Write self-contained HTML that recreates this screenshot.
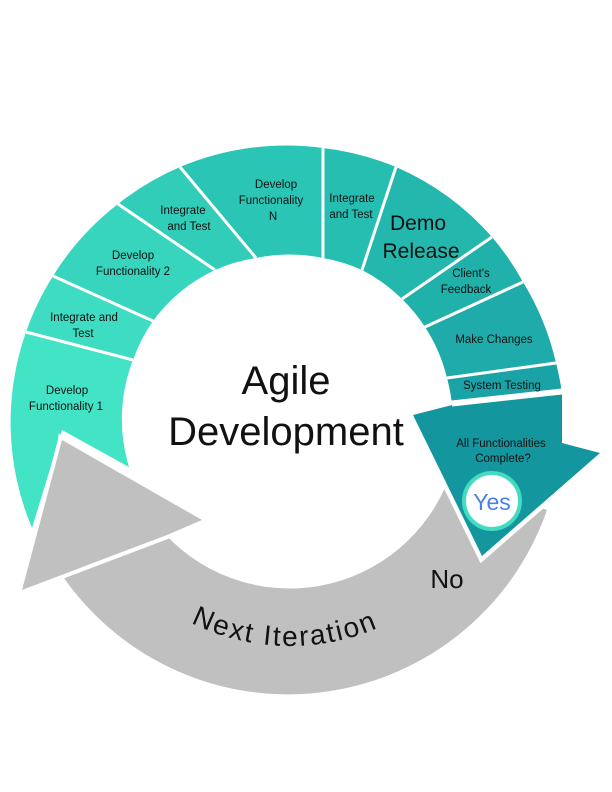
<!DOCTYPE html>
<html><head><meta charset="utf-8"><style>
html,body{margin:0;padding:0;background:#fff;}
svg{display:block;}
text{font-family:"Liberation Sans",sans-serif;fill:#111;}
.s{font-size:11.5px;text-anchor:middle;}
</style></head><body>
<svg width="612" height="792" viewBox="0 0 612 792">
<path d="M133,360 L26,332 A272,272 0 0 0 32,528 L62,430 L129,467 A163,163 0 0 1 133,360Z" fill="#43e3c6"/>
<path d="M153,321 L53,276 A272,272 0 0 0 26,332 L133,360 A163,163 0 0 1 153,321Z" fill="#3edcc2"/>
<path d="M215,270 L118,204 A272,272 0 0 0 53,276 L153,321 A163,163 0 0 1 215,270Z" fill="#37d5be"/>
<path d="M256,258 L180,167 A272,272 0 0 0 118,204 L215,270 A163,163 0 0 1 256,258Z" fill="#31cdb9"/>
<path d="M323,258 L323,148 A272,272 0 0 0 180,167 L256,258 A163,163 0 0 1 323,258Z" fill="#2bc5b6"/>
<path d="M362,270 L396,167 A272,272 0 0 0 323,148 L323,258 A163,163 0 0 1 362,270Z" fill="#27beb2"/>
<path d="M402,299 L492,237 A272,272 0 0 0 396,167 L362,270 A163,163 0 0 1 402,299Z" fill="#23b7ae"/>
<path d="M425,327 L523,282 A272,272 0 0 0 492,237 L402,299 A163,163 0 0 1 425,327Z" fill="#21b1ab"/>
<path d="M447,378 L556,363 A272,272 0 0 0 523,282 L425,327 A163,163 0 0 1 447,378Z" fill="#1eaba9"/>
<path d="M452,405 L562,393 A272,272 0 0 0 556,363 L447,378 A163,163 0 0 1 452,405Z" fill="#1aa3a6"/>
<g stroke="#fff" stroke-width="3">
<line x1="133" y1="360" x2="26" y2="332"/><line x1="153" y1="321" x2="53" y2="276"/>
<line x1="215" y1="270" x2="118" y2="204"/><line x1="256" y1="258" x2="180" y2="167"/>
<line x1="323" y1="258" x2="323" y2="148"/><line x1="362" y1="270" x2="396" y2="167"/>
<line x1="402" y1="299" x2="492" y2="237"/><line x1="425" y1="327" x2="523" y2="282"/>
<line x1="447" y1="378" x2="556" y2="363"/>
</g>
<g>
<path d="M547,510 A274,274 0 0 1 50,556 L62,440 L202,520 L167,535 L158,526 A170,170 0 0 0 450,475 Z" fill="#c0c0c0" stroke="#fff" stroke-width="8"/>
<path d="M547,510 A274,274 0 0 1 50,556 L22,590 L62,440 L202,520 L167,535 L158,526 A170,170 0 0 0 450,475 Z" fill="#c0c0c0"/>
<path d="M22,590 L62,440 L202,520 L167,535 Z" fill="#c0c0c0" stroke="#fff" stroke-width="8"/>
<path d="M22,590 L62,440 L202,520 L167,535 Z" fill="#c0c0c0"/>
</g>
<path d="M452,405 L562,393 L562,443 L600,453 L482,556 L413,415 Z" fill="#fff" stroke="#fff" stroke-width="9"/>
<path d="M452,405 L562,393 L562,443 L600,453 L482,556 L413,415 Z" fill="#14969f"/>
<line x1="452" y1="405" x2="562" y2="393" stroke="#fff" stroke-width="3"/>
<circle cx="492" cy="501" r="28" fill="#fff" stroke="#44dcc0" stroke-width="4"/>
<text x="492" y="510" style="font-size:23px;text-anchor:middle;fill:#4a7ef0">Yes</text>
<text x="286" y="394" style="font-size:40px;text-anchor:middle">Agile</text>
<text x="286" y="445" style="font-size:40px;text-anchor:middle">Development</text>
<text class="s" x="67" y="394">Develop</text><text class="s" x="66" y="410">Functionality 1</text>
<text class="s" x="84" y="321">Integrate and</text><text class="s" x="83" y="337">Test</text>
<text class="s" x="133" y="259">Develop</text><text class="s" x="133" y="275">Functionality 2</text>
<text class="s" x="183" y="214">Integrate</text><text class="s" x="189" y="230">and Test</text>
<text class="s" x="276" y="188">Develop</text><text class="s" x="271" y="204">Functionality</text><text class="s" x="273" y="220">N</text>
<text class="s" x="352" y="202">Integrate</text><text class="s" x="351" y="218">and Test</text>
<text x="418" y="230" style="font-size:21px;text-anchor:middle">Demo</text>
<text x="421" y="258" style="font-size:21px;text-anchor:middle">Release</text>
<text class="s" x="471" y="277">Client’s</text><text class="s" x="466" y="293">Feedback</text>
<text class="s" x="494" y="343">Make Changes</text>
<text class="s" x="502" y="389">System Testing</text>
<text class="s" x="501" y="447">All Functionalities</text><text class="s" x="503" y="462">Complete?</text>
<text x="447" y="588" style="font-size:26px;text-anchor:middle">No</text>
<defs><path id="arc" d="M80,496 A222,222 0 0 0 500,496"/></defs>
<text style="font-size:28px;text-anchor:middle;letter-spacing:2px"><textPath href="#arc" startOffset="49%">Next  Iteration</textPath></text>
</svg>
</body></html>
